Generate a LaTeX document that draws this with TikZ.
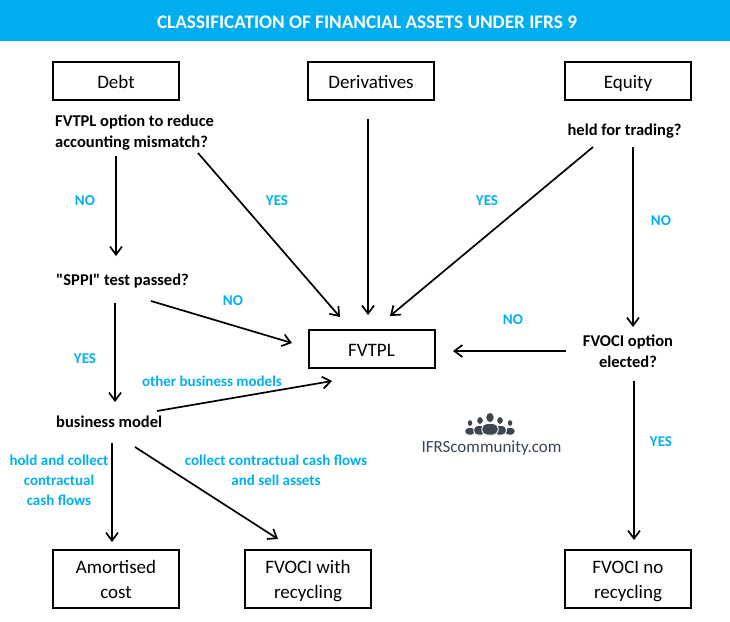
\documentclass[tikz,border=0pt]{standalone}
\usepackage{fontspec}
\setmainfont{Carlito}
\newfontfamily\plaincarlito{Carlito}
\usetikzlibrary{arrows.meta}
\definecolor{ifrsblue}{HTML}{00AEEF}
\definecolor{lblblue}{HTML}{00B0F0}
\definecolor{logogray}{HTML}{3B4651}
\newcommand{\twoline}[2]{\raisebox{-2.5pt}[\height][\depth]{\begin{tabular}{@{}c@{}}#1\\#2\end{tabular}}}
\begin{document}
\begin{tikzpicture}[x=1pt,y=-1pt,
  box/.style={draw, line width=2pt, minimum width=126pt, minimum height=38pt, inner sep=0pt, align=center, font=\fontsize{19}{25}\selectfont, text height=14.5pt, text depth=0.5pt},
  tallbox/.style={draw, line width=2pt, minimum width=126pt, minimum height=58pt, inner sep=0pt, font=\fontsize{19}{25}\selectfont},
  q/.style={font=\fontsize{16.5}{21}\selectfont\bfseries, inner sep=0pt},
  lbl/.style={font=\fontsize{15}{20}\selectfont\bfseries, text=lblblue, inner sep=0pt, align=center},
  arr/.style={-{Straight Barb[length=8pt,width=12pt]}, line width=1.7pt},
  person/.style={fill=logogray, draw=white, line width=0.9pt},
]
\useasboundingbox (0,0) rectangle (730,621);
\fill[ifrsblue] (0,0) rectangle (730,41);
\node[font=\fontsize{19.2}{22}\selectfont\bfseries, text=white] (title) at (367,22) {CLASSIFICATION OF FINANCIAL ASSETS UNDER IFRS 9};

% boxes
\node[box] (debt) at (116,81) {Debt};
\node[box] (deriv) at (371,81) {Derivatives};
\node[box] (equity) at (628,81) {Equity};
\node[box] (fvtpl) at (371.5,349) {FVTPL};
\node[tallbox] (amort) at (116,578.5) {\twoline{Amortised}{cost}};
\node[tallbox] (fvociw) at (308,578.5) {\twoline{FVOCI with}{recycling}};
\node[tallbox] (fvocin) at (628,578.5) {\twoline{FVOCI no}{recycling}};

% questions
\node[q, align=left, anchor=west] (q1) at (55,132.5) {FVTPL option to reduce\\accounting mismatch?};
\node[q] (held) at (624.5,131.5) {held for trading?};
\node[q, anchor=west, font=\fontsize{16.5}{21}\plaincarlito\bfseries] (sppi) at (56,281) {"SPPI" test passed?};
\node[q, anchor=west] (bm) at (56,422) {business model};
\node[q, align=center] (fvopt) at (628,351.5) {FVOCI option\\elected?};

% labels
\node[lbl] (l1) at (85,201) {NO};
\node[lbl] (l2) at (277,201) {YES};
\node[lbl] (l3) at (487,200.5) {YES};
\node[lbl] (l4) at (661,220.5) {NO};
\node[lbl] (l5) at (233,301) {NO};
\node[lbl] (l6) at (85,358.5) {YES};
\node[lbl] (l7) at (513,319.5) {NO};
\node[lbl] (l8) at (212,381.5) {other business models};
\node[lbl] (l9) at (59,480) {hold and collect\\contractual\\cash flows};
\node[lbl] (l10) at (276,470) {collect contractual cash flows\\and sell assets};
\node[lbl] (l11) at (661,441.5) {YES};

% connector ends
\coordinate (a1s) at (116,156); \coordinate (a1e) at (116,256);
\coordinate (a2s) at (198,153); \coordinate (a2e) at (340,317);
\coordinate (a3s) at (368,119); \coordinate (a3e) at (368,315);
\coordinate (a4s) at (593,147); \coordinate (a4e) at (390,316);
\coordinate (a5s) at (633,147); \coordinate (a5e) at (633,327);
\coordinate (a6s) at (151,301); \coordinate (a6e) at (292,343);
\coordinate (a7s) at (115,303); \coordinate (a7e) at (115,402);
\coordinate (a8s) at (566,351); \coordinate (a8e) at (453,351);
\coordinate (a9s) at (157,411); \coordinate (a9e) at (332,381);
\coordinate (a10s) at (112,443); \coordinate (a10e) at (112,542);
\coordinate (a11s) at (135,447); \coordinate (a11e) at (278,539);
\coordinate (a12s) at (634,381); \coordinate (a12e) at (634,540);

\draw[arr] (a1s) -- (a1e);
\draw[arr] (a2s) -- (a2e);
\draw[arr] (a3s) -- (a3e);
\draw[arr] (a4s) -- (a4e);
\draw[arr] (a5s) -- (a5e);
\draw[arr] (a6s) -- (a6e);
\draw[arr] (a7s) -- (a7e);
\draw[arr] (a8s) -- (a8e);
\draw[arr] (a9s) -- (a9e);
\draw[arr] (a10s) -- (a10e);
\draw[arr] (a11s) -- (a11e);
\draw[arr] (a12s) -- (a12e);

% logo (people icon)
\foreach \cx/\hy/\rx/\ry/\w/\sy/\rc in {
   470/423/2.9/3.5/5.2/427.5/3.5,
   510/423/2.9/3.5/5.2/427.5/3.5,
   480/420.5/3.4/4.1/6.3/425.5/4,
   500/420.5/3.4/4.1/6.3/425.5/4,
   490/417.5/4.3/5.2/8.2/423.5/5}{
  \path[person, rounded corners=\rc pt] (\cx-\w,435) -- (\cx-\w,\sy) -- (\cx+\w,\sy) -- (\cx+\w,435) -- cycle;
  \path[person] (\cx,\hy) ellipse [x radius=\rx, y radius=\ry];
}
\node[font=\fontsize{17}{20}\selectfont, text=logogray, inner sep=0pt] (logo) at (491.5,448.5) {IFRScommunity.com};
\end{tikzpicture}
\end{document}
